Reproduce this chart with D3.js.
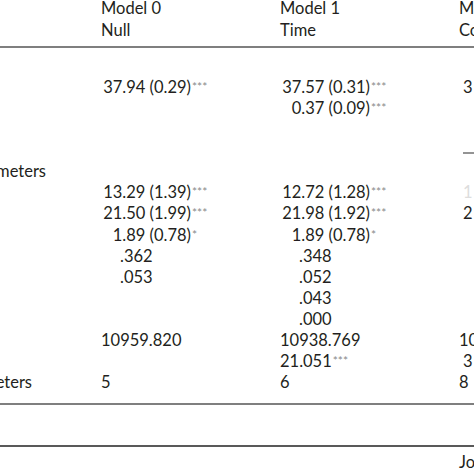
<!DOCTYPE html><html><head><meta charset="utf-8">
<script src="https://cdn.jsdelivr.net/npm/d3@7"></script>
<style>body{margin:0;background:#fff}svg{display:block}</style></head><body>
<script>
const headers = [["Model 0","Null"],["Model 1","Time"],["M","Co"]];
const rows = ["fixed1","fixed2","g1","g2","randHead","rand1","rand2","rand3","icc","r2a","r2b","r2c","dev","chi","npar"];
const model0 = ["37.94 (0.29)|***","","","","","13.29 (1.39)|***","21.50 (1.99)|***","1.89 (0.78)|*",".362",".053","","","10959.820","","5"];
const model1 = ["37.57 (0.31)|***","0.37 (0.09)|***","","","","12.72 (1.28)|***","21.98 (1.92)|***","1.89 (0.78)|*",".348",".052",".043",".000","10938.769","21.051|***","6"];
const model2 = ["3","","","","","1","2","","","","","","10","3","8"];
const leftLabels = [["meters","randHead"],["eters","npar"]];

const W=474,H=474;
const svg=d3.select("body").append("svg").attr("width",W).attr("height",H)
  .style("font-family","Lato, 'Open Sans', sans-serif");
const colX=d3.scaleOrdinal().domain([0,1,2]).range([101,280,459]);
const y=d3.scalePoint().domain(rows).range([93,388]);
const fs=16.5, col="#231f20";

headers.forEach((h,i)=>h.forEach((t,j)=>svg.append("text").attr("x",colX(i)).attr("y",14+j*22)
  .attr("font-size",fs).attr("fill",col).text(t)));

svg.append("line").attr("x1",0).attr("x2",W).attr("y1",47).attr("y2",47).attr("stroke","#555").attr("stroke-width",1.6);
svg.append("line").attr("x1",0).attr("x2",W).attr("y1",404).attr("y2",404).attr("stroke","#555").attr("stroke-width",1.6);
svg.append("line").attr("x1",0).attr("x2",W).attr("y1",446).attr("y2",446).attr("stroke","#222").attr("stroke-width",1.6);
svg.append("line").attr("x1",463).attr("x2",W).attr("y1",153).attr("y2",153).attr("stroke","#666").attr("stroke-width",1.4);
svg.append("text").attr("x",459).attr("y",468).attr("font-size",fs).attr("fill",col).text("Jo");

leftLabels.forEach(([t,r])=>svg.append("text").attr("x",r==="randHead"?46:32).attr("y",y(r))
  .attr("text-anchor","end").attr("font-size",fs).attr("fill",col).text(t));

function drawCol(vals,ci,refEnd){
  vals.forEach((v,ri)=>{
    if(!v) return;
    const [main,star]=v.split("|");
    const g=svg.append("text").attr("y",y(rows[ri])).attr("font-size",fs).attr("fill",col);
    const paren=main.includes("(");
    const isFrac=main.startsWith(".");
    if(paren){g.attr("x",colX(ci)+refEnd).attr("text-anchor","end");}
    else g.attr("x",colX(ci)+(isFrac?19:0));
    g.text(main);
    if(star){
      const s=svg.append("text").attr("y",y(rows[ri])-2).attr("font-size",12).attr("fill","#8a8a8a").text(star);
      if(paren) s.attr("x",colX(ci)+refEnd+1); else s.attr("x",colX(ci)+g.node().getComputedTextLength()+1);
    }
  });
}
drawCol(model0,0,90);
drawCol(model1,1,90);
model2.forEach((v,ri)=>{ if(!v) return;
  const x = (v==="8"||v==="10")?459:463;
  svg.append("text").attr("x",x).attr("y",y(rows[ri])).attr("font-size",fs).attr("fill",v==="1"?"#ddd":col).text(v);
});
</script></body></html>
